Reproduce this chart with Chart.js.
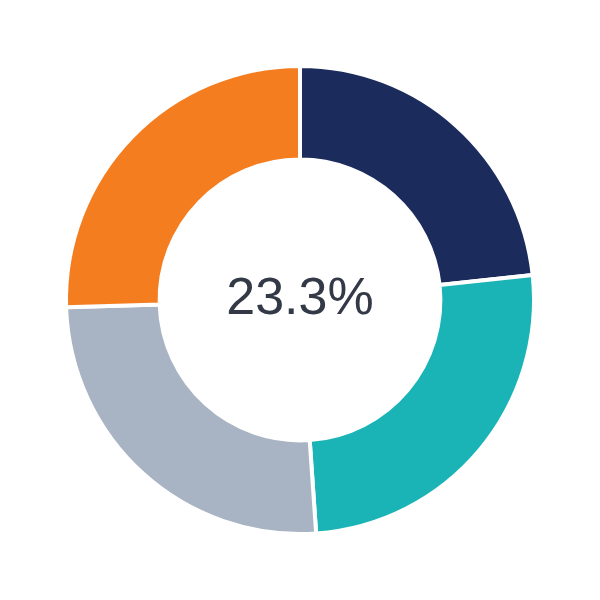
<!DOCTYPE html>
<html>
<head>
<meta charset="utf-8">
<script src="https://cdn.jsdelivr.net/npm/chart.js@4"></script>
<style>
  html, body { margin: 0; padding: 0; background: #ffffff; }
  #wrap { position: relative; width: 600px; height: 600px; }
  #center { position: absolute; left: 0; top: 0; width: 600px; height: 600px; display: flex; align-items: center; justify-content: center; font-family: "Liberation Sans", Arial, sans-serif; font-size: 52px; color: #333946; pointer-events: none; }
</style>
</head>
<body>
<div id="wrap">
  <canvas id="c" width="600" height="600"></canvas>
  <div id="center"><span id="label" style="position:relative; top:-4px;"></span></div>
</div>
<script>
const categories = ["Navy", "Teal", "Gray", "Orange"];
const values = [23.3, 25.6, 25.6, 25.5];
const colors = ["#1b2b5b", "#1bb4b6", "#a8b4c3", "#f47d20"];
const centerLabel = "23.3%";

document.getElementById('label').textContent = centerLabel;

new Chart(document.getElementById('c'), {
  type: 'doughnut',
  data: {
    labels: categories,
    datasets: [{
      data: values,
      backgroundColor: colors,
      borderColor: '#ffffff',
      borderWidth: 4,
      hoverOffset: 0
    }]
  },
  options: {
    responsive: false,
    animation: false,
    cutout: '60%',
    layout: { padding: 64 },
    plugins: { legend: { display: false }, tooltip: { enabled: false } }
  }
});
</script>
</body>
</html>
